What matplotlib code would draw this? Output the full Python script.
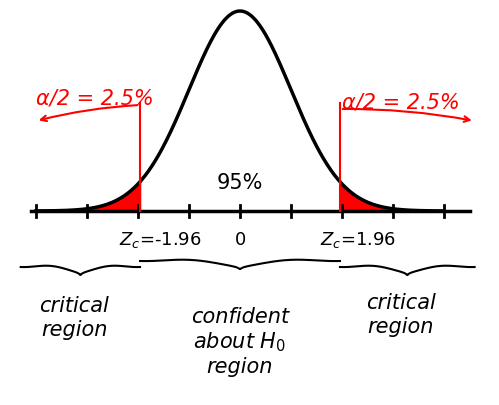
import numpy as np
import matplotlib
matplotlib.use("Agg")
import matplotlib.pyplot as plt

tick_values = [-4, -3, -2, -1, 0, 1, 2, 3, 4]
z_crit = 1.96
alpha_labels = ["α/2 = 2.5%", "α/2 = 2.5%"]
center_label = "95%"
z_labels = ["$Z_c$=-1.96", "0", "$Z_c$=1.96"]
region_labels = ["critical\nregion", "confident\nabout H$_0$\nregion", "critical\nregion"]

fig = plt.figure(figsize=(4.99, 4.06), dpi=100)
ax = fig.add_axes([0, 0, 1, 1])
U = 51.0  # px per unit
ax.set_xlim(-240 / U, (499 - 240) / U)
ax.set_ylim(406, 0)
ax.axis("off")

base = 212
x = np.linspace(-4.0, 4.0, 600)
y = base - 200 * np.exp(-x**2 / 2)
ax.plot(x, y, color="black", lw=2.5)
ax.plot([-4.1, 4.5], [base, base], color="black", lw=2.5)
for t in tick_values:
    ax.plot([t, t], [base - 6, base + 6], color="black", lw=2)

for sgn in (-1, 1):
    xs = np.linspace(z_crit, 3.2, 100) * sgn
    ax.fill_between(xs, base - 200 * np.exp(-xs**2 / 2), base, color="red")
    ax.plot([sgn * z_crit] * 2, [base, 104], color="red", lw=1.5)

ax.annotate("", xy=(-4.0, 122), xytext=(-z_crit, 106),
            arrowprops=dict(arrowstyle="->", color="red", lw=1.5,
                            connectionstyle="arc3,rad=0.05"))
ax.annotate("", xy=(4.6, 122), xytext=(z_crit, 110),
            arrowprops=dict(arrowstyle="->", color="red", lw=1.5,
                            connectionstyle="arc3,rad=-0.05"))
ax.text(-2.85, 98, alpha_labels[0], color="red", fontsize=15, ha="center", va="center", style="italic")
ax.text(3.15, 102, alpha_labels[1], color="red", fontsize=15, ha="center", va="center", style="italic")
ax.text(0, 183, center_label, fontsize=15, ha="center", va="center")

ax.text(-z_crit + 0.4, 240, z_labels[0], fontsize=13, ha="center", va="center")
ax.text(0, 240, z_labels[1], fontsize=13, ha="center", va="center")
ax.text(z_crit + 0.35, 240, z_labels[2], fontsize=13, ha="center", va="center")

def brace(x0, x1, yb, h=10):
    t = np.linspace(0, 1, 200)
    xx = x0 + (x1 - x0) * t
    yy = yb + h * (np.abs(np.sin(np.pi * t)) ** 0.15 - 1) * -1
    yy = yb - h * 0.3 * np.sin(np.pi * t * 2) ** 2 + h * (1 - np.abs(2 * t - 1) ** 0.3)
    ax.plot(xx, yy, color="black", lw=1.5)

brace(-4.3, -z_crit, 268)
brace(-z_crit, z_crit, 262)
brace(z_crit, 4.6, 268)

ax.text(-3.25, 318, region_labels[0], fontsize=15, ha="center", va="center", style="italic")
ax.text(0, 342, region_labels[1], fontsize=15, ha="center", va="center", style="italic")
ax.text(3.15, 315, region_labels[2], fontsize=15, ha="center", va="center", style="italic")

fig.savefig("out.png", dpi=100)
